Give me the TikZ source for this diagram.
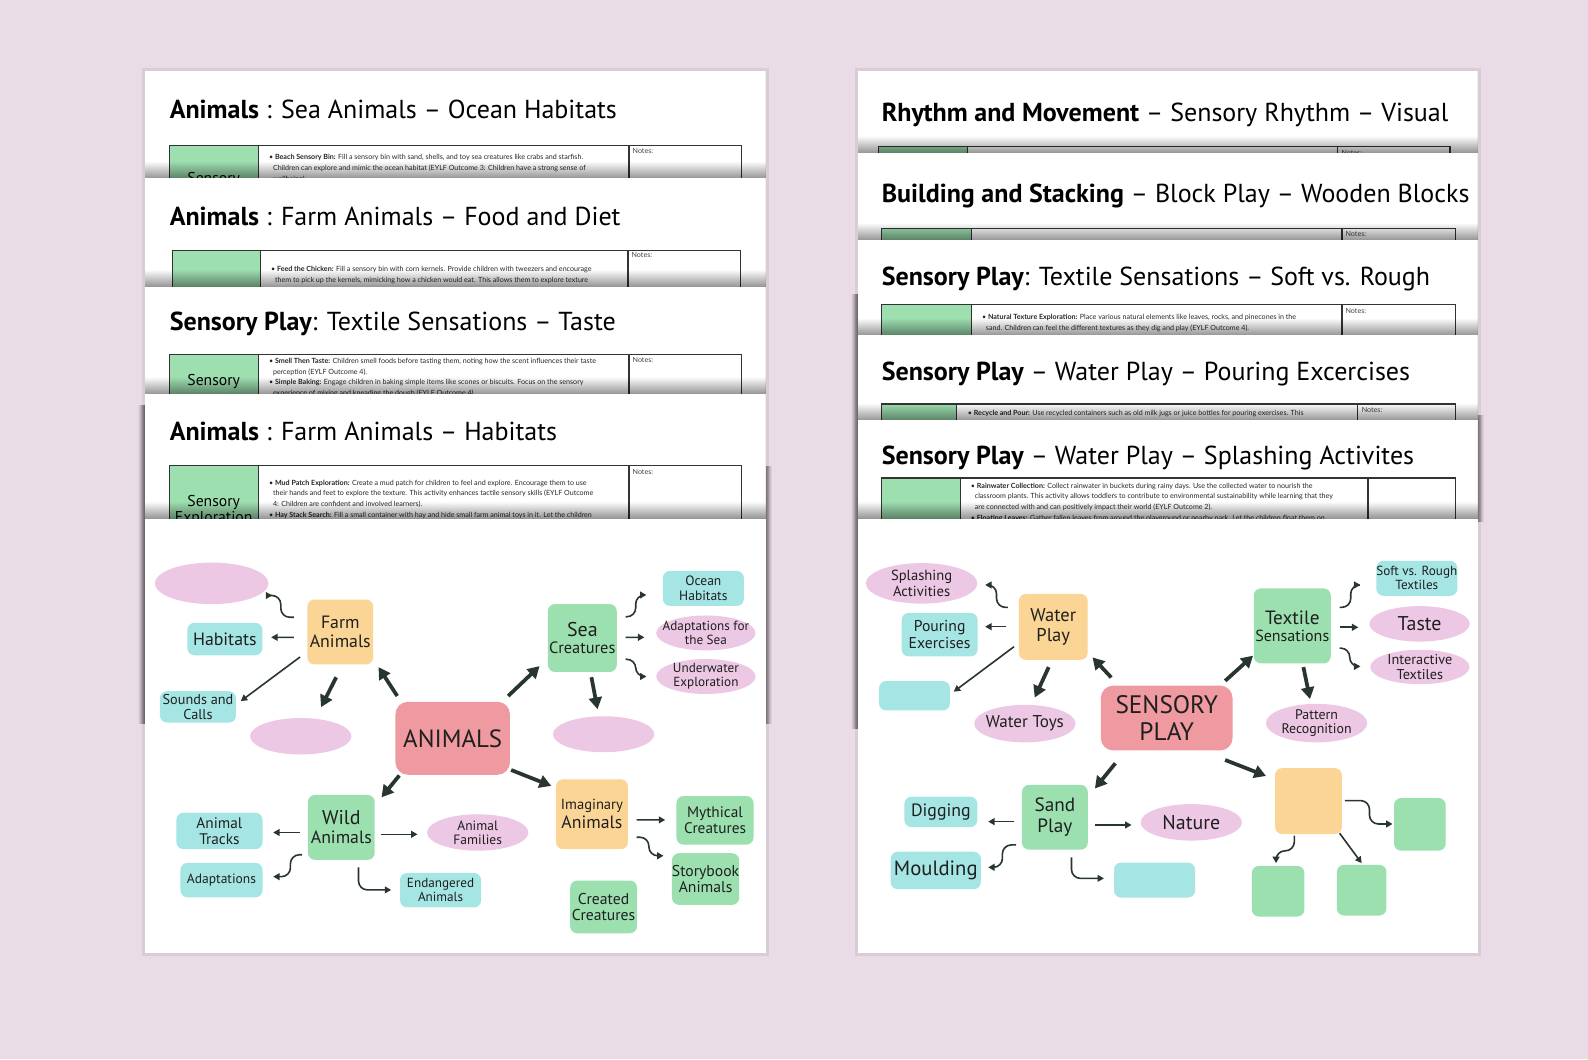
\documentclass[tikz,border=0pt]{standalone}
\usepackage{fontspec}
\setmainfont{Lato}
\newfontfamily\hand{PT Sans}
\usetikzlibrary{arrows.meta,shapes.geometric,fadings}

\definecolor{bgpink}{RGB}{233,220,230}
\definecolor{hubred}{RGB}{238,154,160}
\definecolor{leafgreen}{RGB}{156,224,176}
\definecolor{peach}{RGB}{250,213,149}
\definecolor{aqua}{RGB}{165,230,228}
\definecolor{lilac}{RGB}{236,200,228}
\definecolor{ink}{RGB}{40,54,47}
\definecolor{cellgreen}{RGB}{158,223,176}

\newcommand{\fsz}[1]{\fontsize{#1}{\fpeval{1.06*#1}}\selectfont}

\begin{document}
\begin{tikzpicture}[
    x=0.01cm, y=-0.01cm,
    title/.style={anchor=west, inner sep=0pt, font=\hand\fontsize{7.3}{8}\selectfont},
    plan/.style={anchor=north west, inner sep=0pt, align=left, font=\fontsize{2}{3}\selectfont, text=black!85},
    note/.style={anchor=north west, inner sep=0pt, font=\fontsize{2}{3}\selectfont, text=black!75},
    cell/.style={inner sep=0pt, font=\hand\fontsize{4.4}{5}\selectfont},
    tableline/.style={draw=black!80, line width=0.35pt},
    fs/.style={font=\hand\fsz{#1}},
    wh/.style 2 args={minimum width=#1, minimum height=#2},
    box/.style={rounded corners=2pt, inner sep=0pt, align=center, text=black!88},
    cyanbox/.style={box, fill=aqua},
    greenbox/.style={box, fill=leafgreen},
    peachbox/.style={box, fill=peach},
    hubbox/.style={box, fill=hubred, rounded corners=3.5pt},
    blob/.style={ellipse, fill=lilac, inner sep=0pt},
    blobtext/.style={fs=#1, align=center, text=black!88},
    bigarrow/.style={draw=ink, line width=1.05pt, -{Triangle[length=3.3pt,width=3.6pt]}},
    smallarrow/.style={draw=ink, line width=0.45pt, rounded corners=2.5pt, -{Triangle[length=1.8pt,width=1.9pt]}}
]
\useasboundingbox (0,0) rectangle (1568,1046);
\fill[bgpink] (0,0) rectangle (1568,1046);

% soft shadows of the stacked sheets
\fill[black, opacity=.07] (140,67) rectangle (759,944);
\fill[black, opacity=.07] (844,67) rectangle (1462,944);
\fill[black, opacity=.55, path fading=west] (136,400) rectangle (143,715);
\fill[black, opacity=.45, path fading=east] (756,460) rectangle (762,715);
\fill[black, opacity=.55, path fading=west] (840,290) rectangle (847,720);
\fill[black, opacity=.45, path fading=east] (1459,410) rectangle (1465,515);

% ---------------- left sheet: stacked plans ----------------
\begin{scope}
    \clip (143,70) rectangle (756,176);
    \fill[white] (143,70) rectangle (756,176);
    \node[title] (lt1) at (167,108) {\bfseries Animals\mdseries\ : Sea Animals – Ocean Habitats};
    \fill[cellgreen] (167,144) rectangle (255.5,200);
    \draw[tableline] (167,200) |- (732,144) -- (732,200) (255.5,144) -- (255.5,200) (621,144) -- (621,200);
    \node[cell] (lc1) at (211,177) {Sensory};
    \node[plan] (lp1) at (265,152) {\textbullet\ \textbf{Beach Sensory Bin:} Fill a sensory bin with sand, shells, and toy sea creatures like crabs and starfish.\\
        \hspace*{1.1pt}Children can explore and mimic the ocean habitat (EYLF Outcome 3: Children have a strong sense of\\
        \hspace*{1.1pt}wellbeing).};
    \node[note] (ln1) at (624,146) {Notes:};
\end{scope}

\begin{scope}
    \clip (143,176) rectangle (756,283);
    \fill[white] (143,176) rectangle (756,283);
    \node[title] (lt2) at (167,214) {\bfseries Animals\mdseries\ : Farm Animals – Food and Diet};
    \fill[cellgreen] (170,247) rectangle (257,300);
    \draw[tableline] (170,300) |- (731,247) -- (731,300) (257,247) -- (257,300) (620,247) -- (620,300);
    \node[plan] (lp2) at (267,262) {\textbullet\ \textbf{Feed the Chicken:} Fill a sensory bin with corn kernels. Provide children with tweezers and encourage\\
        \hspace*{1.1pt}them to pick up the kernels, mimicking how a chicken would eat. This allows them to explore texture};
    \node[note] (ln2) at (623,249) {Notes:};
\end{scope}

\begin{scope}
    \clip (143,283) rectangle (756,389);
    \fill[white] (143,283) rectangle (756,389);
    \node[title] (lt3) at (167,320) {\bfseries Sensory Play\mdseries: Textile Sensations – Taste};
    \fill[cellgreen] (167,350) rectangle (255.5,400);
    \draw[tableline] (167,400) |- (732,350) -- (732,400) (255.5,350) -- (255.5,400) (621,350) -- (621,400);
    \node[cell] (lc3) at (211,377) {Sensory};
    \node[plan] (lp3) at (265,353) {\textbullet\ \textbf{Smell Then Taste:} Children smell foods before tasting them, noting how the scent influences their taste\\
        \hspace*{1.1pt}perception (EYLF Outcome 4).\\
        \textbullet\ \textbf{Simple Baking:} Engage children in baking simple items like scones or biscuits. Focus on the sensory\\
        \hspace*{1.1pt}experience of mixing and kneading the dough (EYLF Outcome 4).};
    \node[note] (ln3) at (624,352) {Notes:};
\end{scope}

\begin{scope}
    \clip (143,389) rectangle (756,512);
    \fill[white] (143,389) rectangle (756,512);
    \node[title] (lt4) at (167,426) {\bfseries Animals\mdseries\ : Farm Animals – Habitats};
    \fill[cellgreen] (167,460) rectangle (255.5,520);
    \draw[tableline] (167,520) |- (732,460) -- (732,520) (255.5,460) -- (255.5,520) (621,460) -- (621,520);
    \node[cell] (lc4) at (211,496) {Sensory};
    \node[cell] (lc4b) at (211,512) {Exploration};
    \node[plan] (lp4) at (265,473) {\textbullet\ \textbf{Mud Patch Exploration:} Create a mud patch for children to feel and explore. Encourage them to use\\
        \hspace*{1.1pt}their hands and feet to explore the texture. This activity enhances tactile sensory skills (EYLF Outcome\\
        \hspace*{1.1pt}4: Children are confident and involved learners).\\
        \textbullet\ \textbf{Hay Stack Search:} Fill a small container with hay and hide small farm animal toys in it. Let the children};
    \node[note] (ln4) at (624,463) {Notes:};
\end{scope}

% ---------------- right sheet: stacked plans ----------------
\begin{scope}
    \clip (847,70) rectangle (1459,151);
    \fill[white] (847,70) rectangle (1459,151);
    \node[title] (rt1) at (870,113.5) {\bfseries Rhythm and Movement\mdseries\ – Sensory Rhythm – Visual};
    \fill[cellgreen] (867.6,145) rectangle (955.4,170);
    \draw[tableline] (867.6,170) |- (1431.7,145) -- (1431.7,170) (955.4,145) -- (955.4,170) (1321,145) -- (1321,170);
    \node[note] (rn1) at (1324,148) {Notes:};
\end{scope}

\begin{scope}
    \clip (847,151) rectangle (1459,237);
    \fill[white] (847,151) rectangle (1459,237);
    \node[title] (rt2) at (870,194) {\bfseries Building and Stacking\mdseries\ – Block Play – Wooden Blocks};
    \fill[cellgreen] (870.6,225.5) rectangle (959.4,250);
    \draw[tableline] (870.6,250) |- (1436.8,225.5) -- (1436.8,250) (959.4,225.5) -- (959.4,250) (1325,225.5) -- (1325,250);
    \node[note] (rn2) at (1328,228) {Notes:};
\end{scope}

\begin{scope}
    \clip (847,237) rectangle (1459,331);
    \fill[white] (847,237) rectangle (1459,331);
    \node[title] (rt3) at (870,275) {\bfseries Sensory Play\mdseries: Textile Sensations – Soft vs. Rough};
    \fill[cellgreen] (870.6,301) rectangle (959.4,340);
    \draw[tableline] (870.6,340) |- (1436.8,301) -- (1436.8,340) (959.4,301) -- (959.4,340) (1325,301) -- (1325,340);
    \node[plan] (rp3) at (969,310) {\textbullet\ \textbf{Natural Texture Exploration:} Place various natural elements like leaves, rocks, and pinecones in the\\
        \hspace*{1.1pt}sand. Children can feel the different textures as they dig and play (EYLF Outcome 4).};
    \node[note] (rn3) at (1328,304) {Notes:};
\end{scope}

\begin{scope}
    \clip (847,331) rectangle (1459,415);
    \fill[white] (847,331) rectangle (1459,415);
    \node[title] (rt4) at (870,369) {\bfseries Sensory Play\mdseries\ – Water Play – Pouring Excercises};
    \fill[cellgreen] (870.6,399) rectangle (944.6,430);
    \draw[tableline] (870.6,430) |- (1436.8,399) -- (1436.8,430) (944.6,399) -- (944.6,430) (1340.6,399) -- (1340.6,430);
    \node[plan] (rp4) at (955,404) {\textbullet\ \textbf{Recycle and Pour:} Use recycled containers such as old milk jugs or juice bottles for pouring exercises. This};
    \node[note] (rn4) at (1344,402) {Notes:};
\end{scope}

\begin{scope}
    \clip (847,415) rectangle (1459,512);
    \fill[white] (847,415) rectangle (1459,512);
    \node[title] (rt5) at (870,452.5) {\bfseries Sensory Play\mdseries\ – Water Play – Splashing Activites};
    \fill[cellgreen] (870.6,472) rectangle (948.6,530);
    \draw[tableline] (870.6,530) |- (1436.8,472) -- (1436.8,530) (948.6,472) -- (948.6,530) (1350.7,472) -- (1350.7,530);
    \node[plan] (rp5) at (958,476) {\textbullet\ \textbf{Rainwater Collection:} Collect rainwater in buckets during rainy days. Use the collected water to nourish the\\
        \hspace*{1.1pt}classroom plants. This activity allows toddlers to contribute to environmental sustainability while learning that they\\
        \hspace*{1.1pt}are connected with and can positively impact their world (EYLF Outcome 2).\\
        \textbullet\ \textbf{Floating Leaves:} Gather fallen leaves from around the playground or nearby park. Let the children float them on};
\end{scope}

% shadow under each sheet edge
\foreach \yb in {176,283,389,512}
    \fill[black, opacity=.42, path fading=north] (143,\yb-17) rectangle (756,\yb);
\foreach \yb in {151,237,331,415,512}
    \fill[black, opacity=.42, path fading=north] (847,\yb-17) rectangle (1459,\yb);

% mind map sheets
\fill[white] (143,512) rectangle (756,941);
\fill[white] (847,512) rectangle (1459,941);

% ---------------- ANIMALS map ----------------
\node[hubbox, wh={1.13cm}{.72cm}, fs=7] (animals) at (447,729) {ANIMALS};

\node[peachbox, wh={.65cm}{.64cm}, fs=5] (farm) at (336,624) {Farm\\Animals};
\node[blob, wh={1.12cm}{.41cm}] (farmblob) at (209,576) {};
\node[cyanbox, wh={.74cm}{.32cm}, fs=5] (habitats) at (222,631) {Habitats};
\node[cyanbox, wh={.75cm}{.31cm}, fs=4] (sounds) at (195.5,698) {Sounds and\\Calls};
\node[blob, wh={1cm}{.36cm}] (farmblob2) at (297,727) {};

\node[greenbox, wh={.68cm}{.67cm}, fs=4.6] (sea) at (575,630) {{\fsz{5.6}Sea}\\Creatures};
\node[cyanbox, wh={.8cm}{.345cm}, fs=3.8] (ocean) at (694.5,581) {Ocean\\Habitats};
\node[blob, wh={.98cm}{.345cm}, label={[blobtext=3.7]center:Adaptations for\\the Sea}] (adapt) at (697,625) {};
\node[blob, wh={.98cm}{.345cm}, label={[blobtext=3.7]center:Underwater\\Exploration}] (underwater) at (697,668) {};
\node[blob, wh={1cm}{.355cm}] (seablob) at (596,725) {};

\node[greenbox, wh={.66cm}{.64cm}, fs=5] (wild) at (337,817) {{\fsz{5.6}Wild}\\Animals};
\node[cyanbox, wh={.85cm}{.36cm}, fs=4.3] (tracks) at (216.7,820.5) {Animal\\Tracks};
\node[cyanbox, wh={.81cm}{.34cm}, fs=3.8] (adaptations) at (218.7,869) {Adaptations};
\node[blob, wh={1cm}{.36cm}, label={[blobtext=3.8]center:Animal\\Families}] (families) at (471.7,822) {};
\node[cyanbox, wh={.8cm}{.34cm}, fs=3.7] (endangered) at (435,879) {Endangered\\Animals};

\node[peachbox, wh={.71cm}{.69cm}, fs=4.1] (imaginary) at (584.5,804) {Imaginary\\{\fsz{5}Animals}};
\node[greenbox, wh={.76cm}{.48cm}, fs=4.3] (mythical) at (706,810) {Mythical\\Creatures};
\node[greenbox, wh={.65cm}{.51cm}, fs=4.4] (storybook) at (696.7,868) {Storybook\\Animals};
\node[greenbox, wh={.66cm}{.52cm}, fs=4.4] (created) at (596,895.5) {Created\\Creatures};

\draw[bigarrow] ([shift={(2.5,-5)}]animals.north west) -- ([shift={(4.5,2)}]farm.south east);
\draw[bigarrow] ([shift={(-4,12)}]farm.south) -- ([shift={(20,-10)}]farmblob2.north);
\draw[bigarrow] ([shift={(-2.5,-5)}]animals.north east) -- ([shift={(-7.5,-6.5)}]sea.south west);
\draw[bigarrow] ([shift={(9,4.5)}]sea.south) -- ([shift={(-6,-6.25)}]seablob.north);
\draw[bigarrow] ([shift={(4.5,0)}]animals.south west) -- ([shift={(6,3)}]wild.north east);
\draw[bigarrow] ([shift={(0.5,-5.4)}]animals.south east) -- ([shift={(-4,7.2)}]imaginary.north west);

\draw[smallarrow] ([shift={(-12.5,-14.5)}]farm.west) -- ++(-13,0) |- ([shift={(3,12)}]farmblob.east);
\draw[smallarrow] ([shift={(-12.5,5.3)}]farm.west) -- ([shift={(8,-1.7)}]habitats.east);
\draw[smallarrow] ([shift={(-6.5,-8)}]farm.south west) -- ([shift={(4,10.5)}]sounds.north east);
\draw[smallarrow] ([shift={(8,-21)}]sea.east) -- ++(10,0) |- ([shift={(-15.5,6.5)}]ocean.west);
\draw[smallarrow] ([shift={(8,-0.7)}]sea.east) -- ([shift={(-11,4.3)}]adapt.west);
\draw[smallarrow] ([shift={(8,21)}]sea.east) -- ++(10,0) |- ([shift={(-9,0)}]underwater.west);
\draw[smallarrow] ([shift={(-7,5)}]wild.west) -- ([shift={(9.8,1.5)}]tracks.east);
\draw[smallarrow] ([shift={(-5,27)}]wild.west) -- ++(-11.5,0) |- ([shift={(9.8,-3.4)}]adaptations.east);
\draw[smallarrow] ([shift={(5,6.8)}]wild.east) -- ([shift={(-8.7,1.8)}]families.west);
\draw[smallarrow] ([shift={(17,6.7)}]wild.south) |- ([shift={(-8,-0.3)}]endangered.west);
\draw[smallarrow] ([shift={(8,5.6)}]imaginary.east) -- ([shift={(-10.4,-0.4)}]mythical.west);
\draw[smallarrow] ([shift={(8,22.7)}]imaginary.east) -- ++(12,0) |- ([shift={(-7.6,-23)}]storybook.west);

% ---------------- SENSORY PLAY map ----------------
\node[hubbox, wh={1.3cm}{.64cm}, fs=7.1] (sensory) at (1152,709) {SENSORY\\PLAY};

\node[peachbox, wh={.68cm}{.65cm}, fs=5.2] (water) at (1040,619) {Water\\Play};
\node[blob, wh={1.1cm}{.4cm}, label={[blobtext=4.1]center:Splashing\\Activities}] (splash) at (910,576) {};
\node[cyanbox, wh={.75cm}{.43cm}, fs=4.4] (pouring) at (927.8,626.7) {Pouring\\Exercises};
\node[cyanbox, wh={.7cm}{.29cm}] (waterempty) at (903,687) {};
\node[blob, wh={1cm}{.37cm}, label={[blobtext=4.8]center:Water Toys}] (toys) at (1012,714.5) {};

\node[greenbox, wh={.76cm}{.74cm}, fs=4.5] (textile) at (1276,618) {{\fsz{5.4}Textile}\\Sensations};
\node[cyanbox, wh={.8cm}{.345cm}, fs=3.7] (softrough) at (1399,571) {Soft vs. Rough\\Textiles};
\node[blob, wh={.99cm}{.35cm}, label={[blobtext=5.6]center:Taste}] (taste) at (1401.7,616) {};
\node[blob, wh={.98cm}{.34cm}, label={[blobtext=4]center:Interactive\\Textiles}] (interactive) at (1402,658.6) {};
\node[blob, wh={1cm}{.38cm}, label={[blobtext=3.9]center:Pattern\\Recognition}] (pattern) at (1300,714) {};

\node[greenbox, wh={.65cm}{.64cm}, fs=5.4] (sand) at (1041.6,807) {Sand\\Play};
\node[cyanbox, wh={.72cm}{.3cm}, fs=5] (digging) at (929,801.7) {Digging};
\node[cyanbox, wh={.89cm}{.37cm}, fs=5.8] (moulding) at (924,859.5) {Moulding};
\node[blob, wh={1cm}{.36cm}, label={[blobtext=5.6]center:Nature}] (nature) at (1176.3,812) {};
\node[cyanbox, wh={.8cm}{.345cm}] (sandempty) at (1140,869) {};

\node[peachbox, wh={.66cm}{.65cm}] (blank) at (1292,791) {};
\node[greenbox, wh={.51cm}{.52cm}] (blankright) at (1402,814) {};
\node[greenbox, wh={.52cm}{.5cm}] (blankleft) at (1262,880) {};
\node[greenbox, wh={.49cm}{.5cm}] (blankmid) at (1344.5,879) {};

\draw[bigarrow] ([shift={(11,-7.3)}]sensory.north west) -- ([shift={(4,-3.1)}]water.south east);
\draw[bigarrow] ([shift={(-4.5,6.5)}]water.south) -- ([shift={(9.7,-6.5)}]toys.north);
\draw[bigarrow] ([shift={(-8,-4)}]sensory.north east) -- ([shift={(0,-8.3)}]textile.south west);
\draw[bigarrow] ([shift={(11,3)}]textile.south) -- ([shift={(-6.5,-4)}]pattern.north);
\draw[bigarrow] ([shift={(15,12)}]sensory.south west) -- ([shift={(6.3,4.3)}]sand.north east);
\draw[bigarrow] ([shift={(-8,8.7)}]sensory.south east) -- ([shift={(-8.2,8.4)}]blank.north west);

\draw[smallarrow] ([shift={(-10,-19.3)}]water.west) -- ++(-11.3,0) |- ([shift={(7,1.6)}]splash.east);
\draw[smallarrow] ([shift={(-12,-0.2)}]water.west) -- ([shift={(6.7,-7.9)}]pouring.east);
\draw[smallarrow] ([shift={(-4,-13.7)}]water.south west) -- ([shift={(3,-4)}]waterempty.east);
\draw[smallarrow] ([shift={(8,-18.3)}]textile.east) -- ++(11,0) |- ([shift={(-15,6.6)}]softrough.west);
\draw[smallarrow] ([shift={(8,1.4)}]textile.east) -- ([shift={(-10.2,3.4)}]taste.west);
\draw[smallarrow] ([shift={(8,22)}]textile.east) -- ++(10,0) |- ([shift={(-9,-0.6)}]interactive.west);
\draw[smallarrow] ([shift={(-7.1,4.3)}]sand.west) -- ([shift={(10,9.6)}]digging.east);
\draw[smallarrow] ([shift={(-5.1,27.3)}]sand.west) -- ++(-13.5,0) |- ([shift={(6.5,-3.1)}]moulding.east);
\draw[smallarrow] ([shift={(5.9,7.6)}]sand.east) -- ([shift={(-8.3,2.6)}]nature.west);
\draw[smallarrow] ([shift={(16.4,6.8)}]sand.south) |- ([shift={(-9.2,-1.7)}]sandempty.west);
\draw[smallarrow] ([shift={(2.3,-0.5)}]blank.east) -- ++(24.2,0) |- ([shift={(-0.8,-0.4)}]blankright.west);
\draw[smallarrow] ([shift={(-14,0.9)}]blank.south) -- ++(0,15) -| ([shift={(-2,-2)}]blankleft.north);
\draw[smallarrow] ([shift={(-3,-1.5)}]blank.south east) -- ([shift={(0,-1)}]blankmid.north);

\end{tikzpicture}
\end{document}
